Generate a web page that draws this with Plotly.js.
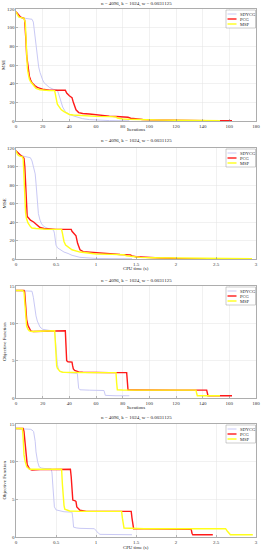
<!DOCTYPE html>
<html>
<head>
<meta charset="utf-8">
<script src="https://cdn.plot.ly/plotly-3.0.1.min.js"></script>
<style>html,body{margin:0;padding:0;background:#fff;}#chart{width:263px;height:550px;}</style>
</head>
<body>
<div id="chart"></div>
<script>
// ---------- Data ----------
const seriesNames = ['SDYCG', 'PCG', 'MSP'];
const chartTitle = 'n = 4096, k = 1024, w = 0.0031125';

// Panel 1: MSE vs iterations
const it1SDYCG = [0,1,2,3,4,5,7,10,12,13,14,15,16,17,18,19,20,21,23,25,28,31,32,33,34,35,37,40,43,46,50,55,60,65,70,75,85];
const mse1SDYCG = [117,115,113,111.5,110.5,110,110,109.5,109,106,95,80,67,58,52,47,44,41,38,36,34,33,29,24,19,15,10,7,5.5,4,2.5,1.5,0.9,0.6,0.45,0.35,0.3];
const it1PCG = [0,1,2,3,4,5,6,6.5,7,7.5,8,9,10,11,12,14,16,18,20,25,30,35,37,38,39,40,41,42,43,44,45,47,50,55,60,65,70,75,80,83,84,86,90,95,100,110,120,130,143,144,150,162];
const mse1PCG = [117,115,113,112,111,110.5,110,108,100,85,70,55,48,44,41,38,36,35,34,33,33,33,33,30,28,27,26,25,20,15,12,9,8,7.5,6.5,5.8,5.2,4.8,4.6,4.6,4,3,2.2,1.6,1.2,0.8,0.6,0.5,0.45,0.35,0.3,0.3];
const it1MSP = [0,1,2,3,5,6,7,7.5,8,8.5,9,10,11,13,15,18,20,25,29,29.5,30,31,32,34,36,38,40,43,48,53,60,70,75,76,78,80,85,90,100,110,120,135,136,145,153];
const mse1MSP = [117,114,111.5,111,110.5,110,105,85,70,58,52,45,42,38,35,33.5,33,32.5,32.5,28,22,18,16,12,10,8,7,6.5,6,5.4,5,4.7,4.4,3.2,2.6,2.2,1.8,1.5,1.1,0.9,0.8,0.7,0.3,0.3,0.3];

// Panel 2: MSE vs CPU time (s)
const t2SDYCG = [0,0.03,0.06,0.1,0.15,0.18,0.2,0.22,0.24,0.25,0.26,0.27,0.28,0.3,0.32,0.35,0.4,0.45,0.47,0.48,0.49,0.5,0.52,0.55,0.6,0.65,0.7,0.8,0.9,1.0,1.2,1.45];
const mse2SDYCG = [117,114,112,111,110,109.5,106,100,92,82,68,55,49,42,38,35,33,32,31,28,20,15,12,10,7.5,6,4,1.8,1,0.6,0.4,0.3];
const t2PCG = [0,0.03,0.06,0.09,0.1,0.11,0.12,0.13,0.14,0.16,0.18,0.22,0.26,0.3,0.35,0.4,0.5,0.6,0.69,0.7,0.72,0.74,0.75,0.77,0.8,0.84,0.9,1.0,1.1,1.2,1.3,1.43,1.45,1.5,1.6,1.8,2.0,2.2,2.47];
const mse2PCG = [117,114,112,110,109,100,75,55,46,44,42,40,37,34,33,32.5,32,32,32,30,28,26,25,17,10,8,7.5,6.7,6,5.3,4.8,4.5,3.3,2.5,1.8,1.1,0.6,0.4,0.3];
const t2MSP = [0,0.02,0.04,0.08,0.09,0.1,0.105,0.11,0.12,0.13,0.15,0.18,0.2,0.25,0.3,0.4,0.5,0.57,0.58,0.59,0.6,0.62,0.65,0.7,0.8,0.9,1.0,1.2,1.35,1.38,1.45,1.55,1.7,2.0,2.3,2.6,2.7,2.8,2.95];
const mse2MSP = [117,113,111.5,110.5,108,90,70,60,50,44,39,35,33.5,33,32.5,32,32,32,28,24,19,15,13,10,7.5,6.3,5.4,5,4.6,3.5,2.5,1.8,1.4,1,0.8,0.7,0.4,0.3,0.3];

// Panel 3: Objective function vs iterations
const it3SDYCG = [0,5,10,12,13,14,15,16,17,18,20,22,25,29,30,31,32,33,35,40,45,46,47,48,55,60,66,67,70,75,85];
const obj3SDYCG = [14.4,14.4,14.4,14.3,13.5,12,11,10.3,9.8,9.5,9.2,9.1,9.05,9.0,7,4.5,3.8,3.6,3.45,3.4,3.35,3.3,1.3,1.1,1.05,1.05,1.0,0.35,0.3,0.3,0.3];
const it3PCG = [0,6,6.5,7,7.5,8,9,10,11,13,15,20,25,30,37,37.5,38,39,41,42,42.5,43,44,45,47,50,60,70,83,83.5,84,90,100,120,143,143.5,144,150,162];
const obj3PCG = [14.4,14.4,14.2,13,11.5,10.5,9.7,9.3,9.0,8.9,8.9,8.95,9.0,9.0,9.0,7,5,4.85,4.8,4.8,4.3,3.9,3.7,3.6,3.5,3.45,3.4,3.4,3.4,2,1.1,1.08,1.05,1.05,1.05,0.6,0.3,0.3,0.3];
const it3MSP = [0,5,6,6.5,7,7.5,8,9,10,12,15,20,25,29,29.5,30,30.5,31,32,33,35,40,50,60,75,75.5,76,80,100,120,135,135.5,136,145,153];
const obj3MSP = [14.4,14.4,14.2,13,11.5,10.2,9.6,9.2,9.0,8.9,8.9,8.95,9.0,9.0,7.5,5,4.3,4.0,3.7,3.55,3.45,3.4,3.4,3.4,3.4,2,1.1,1.08,1.05,1.05,1.05,0.6,0.3,0.3,0.3];

// Panel 4: Objective function vs CPU time (s)
const t4SDYCG = [0,0.1,0.17,0.18,0.2,0.22,0.24,0.25,0.27,0.29,0.32,0.35,0.44,0.45,0.46,0.47,0.48,0.5,0.55,0.6,0.69,0.7,0.71,0.72,0.76,0.8,0.98,1.0,1.03,1.05,1.2,1.45];
const obj4SDYCG = [14.4,14.4,14.4,14.3,14.2,14,12.7,11.3,10,9.3,9.15,9.1,9.05,8.5,6.9,4.7,4,3.6,3.45,3.35,3.3,3.3,2.5,1.3,1.2,1.15,1.1,0.8,0.5,0.35,0.3,0.3];
const t4PCG = [0,0.09,0.1,0.11,0.125,0.14,0.17,0.2,0.3,0.5,0.68,0.69,0.7,0.71,0.74,0.75,0.76,0.78,0.8,0.88,1.0,1.2,1.44,1.45,1.46,1.47,1.6,1.8,2.0,2.19,2.2,2.21,2.3,2.46];
const obj4PCG = [14.4,14.4,14,12.7,10.9,9.6,9.0,8.9,8.95,9.0,9.0,8,6,4.9,4.8,4.7,4,3.7,3.55,3.4,3.4,3.4,3.4,2.5,1.3,1.1,1.08,1.05,1.03,1.02,0.5,0.3,0.3,0.3];
const t4MSP = [0,0.08,0.09,0.1,0.115,0.135,0.17,0.3,0.5,0.57,0.58,0.59,0.6,0.61,0.67,0.8,1.0,1.32,1.33,1.34,1.35,1.6,2.0,2.3,2.62,2.64,2.66,2.68,2.8,2.96];
const obj4MSP = [14.4,14.4,13,10.9,10,9.3,9.0,9.0,9.0,9.0,7,5,4.2,3.7,3.45,3.4,3.4,3.4,2.5,1.6,1.2,1.1,1.1,1.1,1.1,0.8,0.5,0.3,0.3,0.3];

// Axis ticks / labels
const iterTicks = [0,20,40,60,80,100,120,140,160,180];
const timeTicks = [0,0.5,1,1.5,2,2.5,3];
const timeTickText = ['0','0.5','1','1.5','2','2.5','3'];
const mseTicks = [0,20,40,60,80,100,120];
const objTicks = [0,5,10,15];
const xLabels = ['Iterations', 'CPU time (s)', 'Iterations', 'CPU time (s)'];
const yLabels = ['MSE', 'MSE', 'Objective Function', 'Objective Function'];

// ---------- Styling ----------
const colors = ['#c9c9f5', '#ff1a1a', '#ffff1a'];
const widths = [1.0, 1.4, 1.4];
const FONT = 'Liberation Serif, Times New Roman, serif';
const W = 263, H = 550;

const panels = [
  {xs: [it1SDYCG, it1PCG, it1MSP], ys: [mse1SDYCG, mse1PCG, mse1MSP]},
  {xs: [t2SDYCG, t2PCG, t2MSP], ys: [mse2SDYCG, mse2PCG, mse2MSP]},
  {xs: [it3SDYCG, it3PCG, it3MSP], ys: [obj3SDYCG, obj3PCG, obj3MSP]},
  {xs: [t4SDYCG, t4PCG, t4MSP], ys: [obj4SDYCG, obj4PCG, obj4MSP]}
];
// plot boxes in pixels: [top, bottom]
const boxes = [[9,121],[148,259],[286,398],[424,537]];
const xL = 16, xR = 256;
const titleY = [4, 141, 281, 418];
const xLabY = [129.5, 268.5, 407, 547];

const px = v => v / W;
const py = v => 1 - v / H;

const data = [];
const layout = {
  width: W, height: H,
  margin: {l:0, r:0, t:0, b:0},
  paper_bgcolor: '#fff', plot_bgcolor: '#fff',
  font: {family: FONT, size: 5, color: '#222'},
  annotations: [],
  shapes: [],
  showlegend: false
};

panels.forEach((p, i) => {
  const sfx = i === 0 ? '' : String(i + 1);
  for (let s = 0; s < 3; s++) {
    data.push({
      type: 'scatter', mode: 'lines',
      x: p.xs[s], y: p.ys[s], name: seriesNames[s],
      xaxis: 'x' + sfx, yaxis: 'y' + sfx,
      line: {color: colors[s], width: widths[s]},
      showlegend: false
    });
  }
  const isIter = (i % 2 === 0);
  const isMse = (i < 2);
  const [top, bot] = boxes[i];
  layout['xaxis' + sfx] = {
    domain: [px(xL), px(xR)],
    anchor: 'y' + sfx,
    range: isIter ? [0, 180] : [0, 3],
    tickvals: isIter ? iterTicks : timeTicks,
    ticktext: isIter ? iterTicks.map(String) : timeTickText,
    showgrid: true, gridcolor: '#e4e4e4', gridwidth: 0.5,
    zeroline: false,
    showline: true, linecolor: '#777', linewidth: 0.6, mirror: true,
    ticks: 'inside', ticklen: 2, tickwidth: 0.5, tickcolor: '#777',
    tickfont: {family: FONT, size: 5, color: '#333'},
    fixedrange: true
  };
  layout['yaxis' + sfx] = {
    domain: [py(bot), py(top)],
    anchor: 'x' + sfx,
    range: isMse ? [0, 120] : [0, 15],
    tickvals: isMse ? mseTicks : objTicks,
    showgrid: true, gridcolor: '#e4e4e4', gridwidth: 0.5,
    zeroline: false,
    showline: true, linecolor: '#777', linewidth: 0.6, mirror: true,
    ticks: 'inside', ticklen: 2, tickwidth: 0.5, tickcolor: '#777',
    tickfont: {family: FONT, size: 5, color: '#333'},
    fixedrange: true
  };
  // compact legend box (top-right, inside plot)
  const lx0 = 226, lx1 = xR - 0.5, ly0 = top + 1, ly1 = top + 19;
  layout.shapes.push({
    type: 'rect', xref: 'paper', yref: 'paper',
    x0: px(lx0), x1: px(lx1), y0: py(ly1), y1: py(ly0),
    fillcolor: '#fff', line: {color: '#999', width: 0.5}, layer: 'above'
  });
  for (let s = 0; s < 3; s++) {
    const yy = top + 5 + s * 5;
    layout.shapes.push({
      type: 'line', xref: 'paper', yref: 'paper',
      x0: px(227.5), x1: px(236.5), y0: py(yy), y1: py(yy),
      line: {color: colors[s], width: widths[s]}, layer: 'above'
    });
    layout.annotations.push({
      text: seriesNames[s], xref: 'paper', yref: 'paper',
      x: px(238), y: py(yy), xanchor: 'left', yanchor: 'middle',
      showarrow: false, font: {family: FONT, size: 4.5, color: '#222'}
    });
  }
  layout.annotations.push({
    text: chartTitle, xref: 'paper', yref: 'paper',
    x: px((xL + xR) / 2), y: py(titleY[i]),
    xanchor: 'center', yanchor: 'middle', showarrow: false,
    font: {family: FONT, size: 5, color: '#222'}
  });
  layout.annotations.push({
    text: xLabels[i], xref: 'paper', yref: 'paper',
    x: px((xL + xR) / 2), y: py(xLabY[i]),
    xanchor: 'center', yanchor: 'middle', showarrow: false,
    font: {family: FONT, size: 4.8, color: '#222'}
  });
  layout.annotations.push({
    text: yLabels[i], xref: 'paper', yref: 'paper',
    x: px(4), y: py((top + bot) / 2),
    xanchor: 'center', yanchor: 'middle', showarrow: false, textangle: -90,
    font: {family: FONT, size: 5, color: '#222'}
  });
});

Plotly.newPlot('chart', data, layout, {staticPlot: true, displayModeBar: false});
</script>
</body>
</html>
